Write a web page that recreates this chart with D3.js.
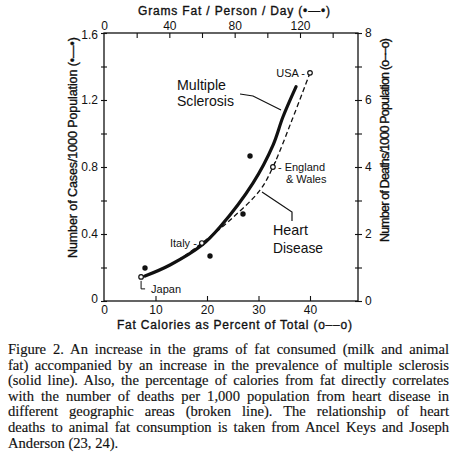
<!DOCTYPE html>
<html>
<head>
<meta charset="utf-8">
<script src="https://cdn.jsdelivr.net/npm/d3@7"></script>
<style>
  html, body { margin: 0; padding: 0; background: #fff; }
  svg { display: block; }
  .ax text { font-family: "Liberation Sans", Arial, sans-serif; font-size: 12px; fill: #111; }
  .lbl { font-family: "Liberation Sans", Arial, sans-serif; fill: #111; }
  .ttl { font-family: "Liberation Sans", Arial, sans-serif; fill: #111; stroke: #111; stroke-width: 0.35; }
  .cap { font-family: "Liberation Serif", "Times New Roman", serif; font-size: 14.6px; fill: #111; stroke: #111; stroke-width: 0.15; }
</style>
</head>
<body>
<svg id="chart" width="457" height="455"></svg>
<script>
// Multiple sclerosis (top axis: grams fat / person / day, left axis: cases / 1000)
const msCurveGrams = [25.1, 40.4, 60.0, 71.0, 91.2, 103.5, 109.6, 117.6];
const msCurveCases = [0.149, 0.215, 0.334, 0.442, 0.704, 0.931, 1.10, 1.28];
const msDotGrams = [25.1, 64.9, 85.1, 89.4];
const msDotCases = [0.197, 0.269, 0.519, 0.866];

// Heart disease (bottom axis: fat calories %, right axis: deaths / 1000)
const countries = ["Japan", "Italy", "England & Wales", "USA"];
const hdPercent = [7.2, 19.0, 32.8, 40.0];
const hdDeaths = [0.72, 1.73, 4.0, 6.81];
const hdCurvePercent = [7.2, 12.8, 19.0, 24.5, 30.3, 32.8, 36.5, 40.0];
const hdCurveDeaths = [0.72, 1.07, 1.73, 2.42, 3.31, 4.0, 5.4, 6.81];

// tick labels
const gramTicks = [0, 20, 40, 60, 80, 100, 120, 140];
const percentTicks = [0, 10, 20, 30, 40];
const casesTicks = [0, 0.2, 0.4, 0.6, 0.8, 1.0, 1.2, 1.4, 1.6];
const deathTicks = [0, 1, 2, 3, 4, 5, 6, 7, 8];

const captionLines = [
  "Figure 2. An increase in the grams of fat consumed (milk and animal",
  "fat) accompanied by an increase in the prevalence of multiple sclerosis",
  "(solid line). Also, the percentage of calories from fat directly correlates",
  "with the number of deaths per 1,000 population from heart disease in",
  "different geographic areas (broken line). The relationship of heart",
  "deaths to animal fat consumption is taken from Ancel Keys and Joseph",
  "Anderson (23, 24)."
];

const svg = d3.select("#chart");
const plotL = 104, plotR = 358, plotT = 33, plotB = 301;

const xGrams = d3.scaleLinear().domain([0, 120]).range([plotL, 300]);
const xPct = d3.scaleLinear().domain([0, 40]).range([plotL, 310]);
const yCases = d3.scaleLinear().domain([0, 1.6]).range([plotB, plotT]);
const yDeaths = d3.scaleLinear().domain([0, 8]).range([plotB, plotT]);

// frame
svg.append("rect")
  .attr("x", plotL).attr("y", plotT)
  .attr("width", plotR - plotL).attr("height", plotB - plotT)
  .attr("fill", "none").attr("stroke", "#111").attr("stroke-width", 1.3);

// axes
const topAxis = svg.append("g").attr("class", "ax")
  .attr("transform", `translate(0,${plotT})`)
  .call(d3.axisTop(xGrams).tickValues(gramTicks).tickSize(-5).tickPadding(3)
    .tickFormat(d => d % 40 === 0 ? d : ""));

const bottomAxis = svg.append("g").attr("class", "ax")
  .attr("transform", `translate(0,${plotB})`)
  .call(d3.axisBottom(xPct).tickValues(percentTicks).tickSize(-5).tickPadding(4)
    .tickFormat(d => d));

const leftAxis = svg.append("g").attr("class", "ax")
  .attr("transform", `translate(${plotL},0)`)
  .call(d3.axisLeft(yCases).tickValues(casesTicks).tickSize(3).tickPadding(3)
    .tickFormat(d => (Math.round(d * 10) % 4 === 0) ? (d === 0 ? "0" : d3.format(".1f")(d)) : ""));

const rightAxis = svg.append("g").attr("class", "ax")
  .attr("transform", `translate(${plotR},0)`)
  .call(d3.axisRight(yDeaths).tickValues(deathTicks).tickSize(4).tickPadding(3)
    .tickFormat(d => d % 2 === 0 ? d : ""));

svg.selectAll(".ax .domain").remove();
svg.selectAll(".ax line").attr("stroke", "#111").attr("stroke-width", 1.1);
// ticks on the vertical axes cross the frame
leftAxis.selectAll("line").attr("x2", -3).attr("x1", 3);
rightAxis.selectAll("line").attr("x1", -3).attr("x2", 4);
bottomAxis.selectAll(".tick").filter(d => d === 0).select("line").remove();
topAxis.selectAll(".tick").filter(d => d === 0).select("line").remove();
leftAxis.selectAll(".tick").filter(d => d === 0).select("text").attr("dy", "0.1em");
leftAxis.selectAll(".tick").filter(d => d === 1.6).select("text").attr("dy", "0.45em");

// curves
const msLine = d3.line().curve(d3.curveCatmullRom.alpha(0.5))
  .x((d, i) => xGrams(msCurveGrams[i])).y(d => yCases(d));
svg.append("path").datum(msCurveCases)
  .attr("d", msLine).attr("fill", "none")
  .attr("stroke", "#111").attr("stroke-width", 3.2).attr("stroke-linecap", "round");

const hdLine = d3.line().curve(d3.curveCatmullRom.alpha(0.5))
  .x((d, i) => xPct(hdCurvePercent[i])).y(d => yDeaths(d));
svg.append("path").datum(hdCurveDeaths)
  .attr("d", hdLine).attr("fill", "none")
  .attr("stroke", "#111").attr("stroke-width", 1.3).attr("stroke-dasharray", "5,3");

// points
svg.selectAll(".msdot").data(msDotCases).enter().append("circle")
  .attr("cx", (d, i) => xGrams(msDotGrams[i])).attr("cy", d => yCases(d))
  .attr("r", 2.7).attr("fill", "#111");

svg.selectAll(".hdpt").data(hdDeaths).enter().append("circle")
  .attr("cx", (d, i) => xPct(hdPercent[i])).attr("cy", d => yDeaths(d))
  .attr("r", 2.3).attr("fill", "#fff").attr("stroke", "#111").attr("stroke-width", 1.2);

// country labels
const px = i => xPct(hdPercent[i]), py = i => yDeaths(hdDeaths[i]);
const lab = (x, y, t, size, anchor, len) => {
  const el = svg.append("text").attr("class", "lbl")
    .attr("x", x).attr("y", y).attr("font-size", size).attr("text-anchor", anchor || "start").text(t);
  if (len) el.attr("textLength", len).attr("lengthAdjust", "spacingAndGlyphs");
  return el;
};

// Japan
svg.append("path").attr("d", `M${px(0)},${py(0) + 4}V${py(0) + 12}H${px(0) + 4}`)
  .attr("fill", "none").attr("stroke", "#111").attr("stroke-width", 1);
lab(px(0) + 10, py(0) + 16, countries[0], 11);
// Italy
lab(px(1) - 5, py(1) + 4, "Italy -", 11, "end");
// England & Wales
svg.append("line").attr("x1", px(2) + 1).attr("y1", py(2) - 2).attr("x2", px(2) + 3).attr("y2", py(2) - 6)
  .attr("stroke", "#111").attr("stroke-width", 1);
lab(px(2) + 5, py(2) + 4, "- England", 11);
lab(px(2) + 13, py(2) + 16, "& Wales", 11);
// USA
lab(px(3) - 5, py(3) + 4, "USA -", 11, "end");

// series annotations
lab(177, 90, "Multiple", 14, "start", 49);
lab(177, 106, "Sclerosis", 14, "start", 57);
svg.append("polyline").attr("points", "240,94 253,96 281,110")
  .attr("fill", "none").attr("stroke", "#111").attr("stroke-width", 1.2);
lab(273, 235, "Heart", 15, "start", 35);
lab(273, 253, "Disease", 15, "start", 50);
svg.append("polyline").attr("points", "262,192 292,212 292,221")
  .attr("fill", "none").attr("stroke", "#111").attr("stroke-width", 1.2);

// axis titles
svg.append("text").attr("class", "ttl").attr("font-size", 12)
  .attr("x", 138).attr("y", 15).attr("textLength", 192).attr("lengthAdjust", "spacing")
  .text("Grams Fat / Person / Day (\u2022\u2014\u2022)");
svg.append("text").attr("class", "ttl").attr("font-size", 12)
  .attr("x", 117).attr("y", 329).attr("textLength", 235).attr("lengthAdjust", "spacing")
  .text("Fat Calories as Percent of Total (o\u2013\u2013o)");
svg.append("text").attr("class", "ttl").attr("font-size", 12.5)
  .attr("transform", "translate(77,258) rotate(-90)")
  .attr("textLength", 221).attr("lengthAdjust", "spacing")
  .text("Number of Cases/1000 Population (\u2022\u2014\u2022)");
svg.append("text").attr("class", "ttl").attr("font-size", 12.5)
  .attr("transform", "translate(389,242) rotate(-90)")
  .attr("textLength", 204).attr("lengthAdjust", "spacing")
  .text("Number of Deaths/1000 Population (o\u2013\u2013o)");

// caption, justified line by line
const capX = 8, capW = 441;
captionLines.forEach((line, i) => {
  const t = svg.append("text").attr("class", "cap")
    .attr("x", capX).attr("y", 354 + i * 15.6).text(line);
  if (i === captionLines.length - 1) return;
  const w = t.node().getComputedTextLength();
  const spaces = (line.match(/ /g) || []).length;
  if (w < capW) {
    t.attr("word-spacing", (capW - w) / spaces);
  } else {
    t.attr("textLength", capW).attr("lengthAdjust", "spacingAndGlyphs");
  }
});
</script>
</body>
</html>
